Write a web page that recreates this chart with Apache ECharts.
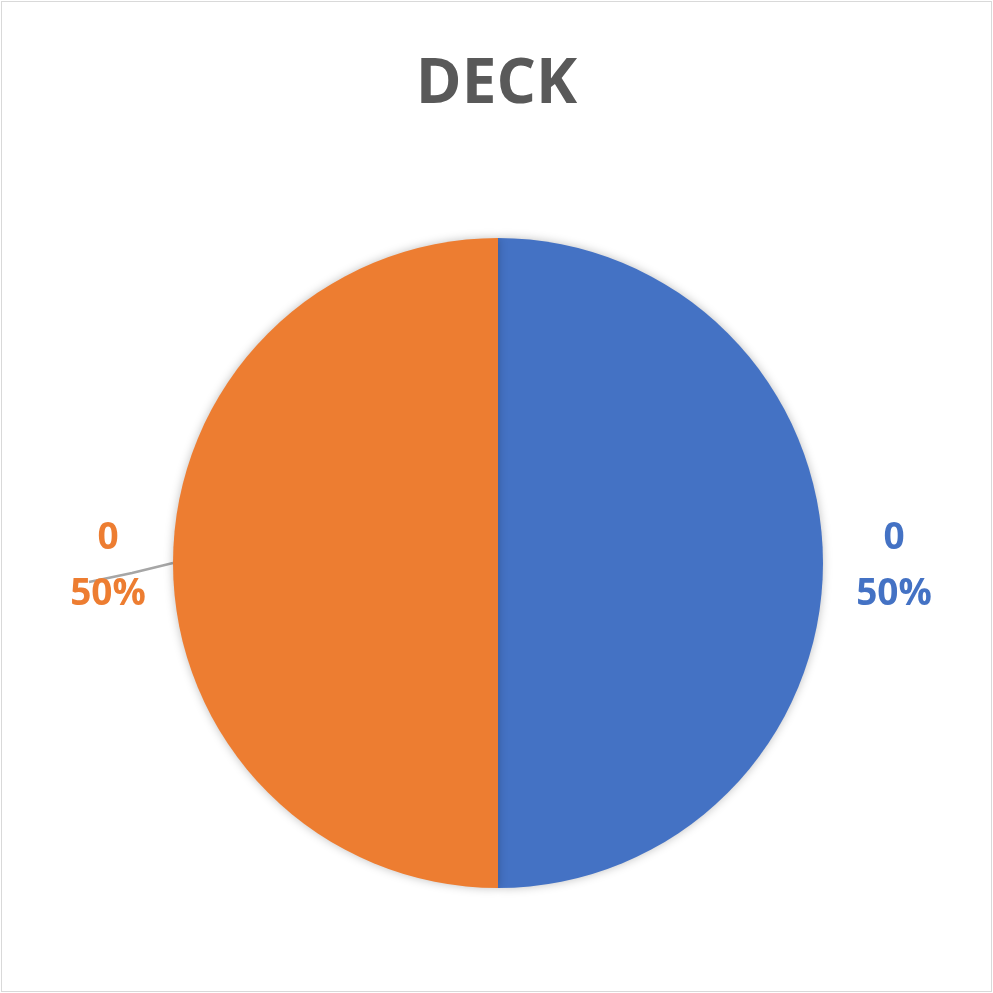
<!DOCTYPE html>
<html lang="en">
<head>
  <meta charset="UTF-8">
  <title>DECK</title>
  <script src="https://cdn.jsdelivr.net/npm/echarts@6/dist/echarts.min.js"></script>
  <style>
    html, body { margin: 0; padding: 0; background: #fff; }
    #chart {
      position: absolute;
      left: 1px; top: 1px;
      width: 989px;
      height: 989px;
      border: 1px solid #d9d9d9;
    }
  </style>
</head>
<body>
<div id="chart"></div>
<script>
    // Chart data
    const chartTitle = 'DECK';
    const categories = ['0', '0'];
    const values = [1, 1];
    const colors = ['#4472C4', '#ED7D31'];

    const chart = echarts.init(document.getElementById('chart'));

    const pieData = categories.map((name, i) => ({
        name: name,
        value: values[i],
        itemStyle: { color: colors[i] },
        label: { color: colors[i] },
        labelLine: { show: i === 1 }
    }));

    const cx = 496, cy = 561, r = 325;

    const options = {
        animation: false,
        title: {
            text: chartTitle,
            left: 'center',
            top: 47,
            textStyle: {
                fontFamily: 'Open Sans',
                fontSize: 62,
                fontWeight: 'bold',
                color: '#595959'
            }
        },
        series: [
            {
                type: 'pie',
                center: [cx, cy],
                radius: r,
                startAngle: 90,
                clockwise: true,
                data: pieData,
                itemStyle: {
                    shadowBlur: 10,
                    shadowColor: 'rgba(0,0,0,0.25)'
                },
                label: {
                    show: true,
                    position: 'outside',
                    formatter: '{b}\n{d}%',
                    fontFamily: 'Open Sans',
                    fontSize: 37,
                    fontWeight: 'bold',
                    lineHeight: 56,
                    align: 'center'
                },
                labelLine: {
                    lineStyle: { color: '#A6A6A6', width: 2.5 }
                },
                labelLayout: function (params) {
                    const left = params.dataIndex === 1;
                    const out = {
                        x: left ? 106 : 892,
                        y: 564,
                        align: 'center',
                        verticalAlign: 'middle'
                    };
                    if (left) {
                        // leader line runs from the slice edge into the label
                        out.labelLinePoints = [[cx - r, cy], [130, 571], [87, 580]];
                    }
                    return out;
                }
            }
        ]
    };

    chart.setOption(options);
</script>
</body>
</html>
